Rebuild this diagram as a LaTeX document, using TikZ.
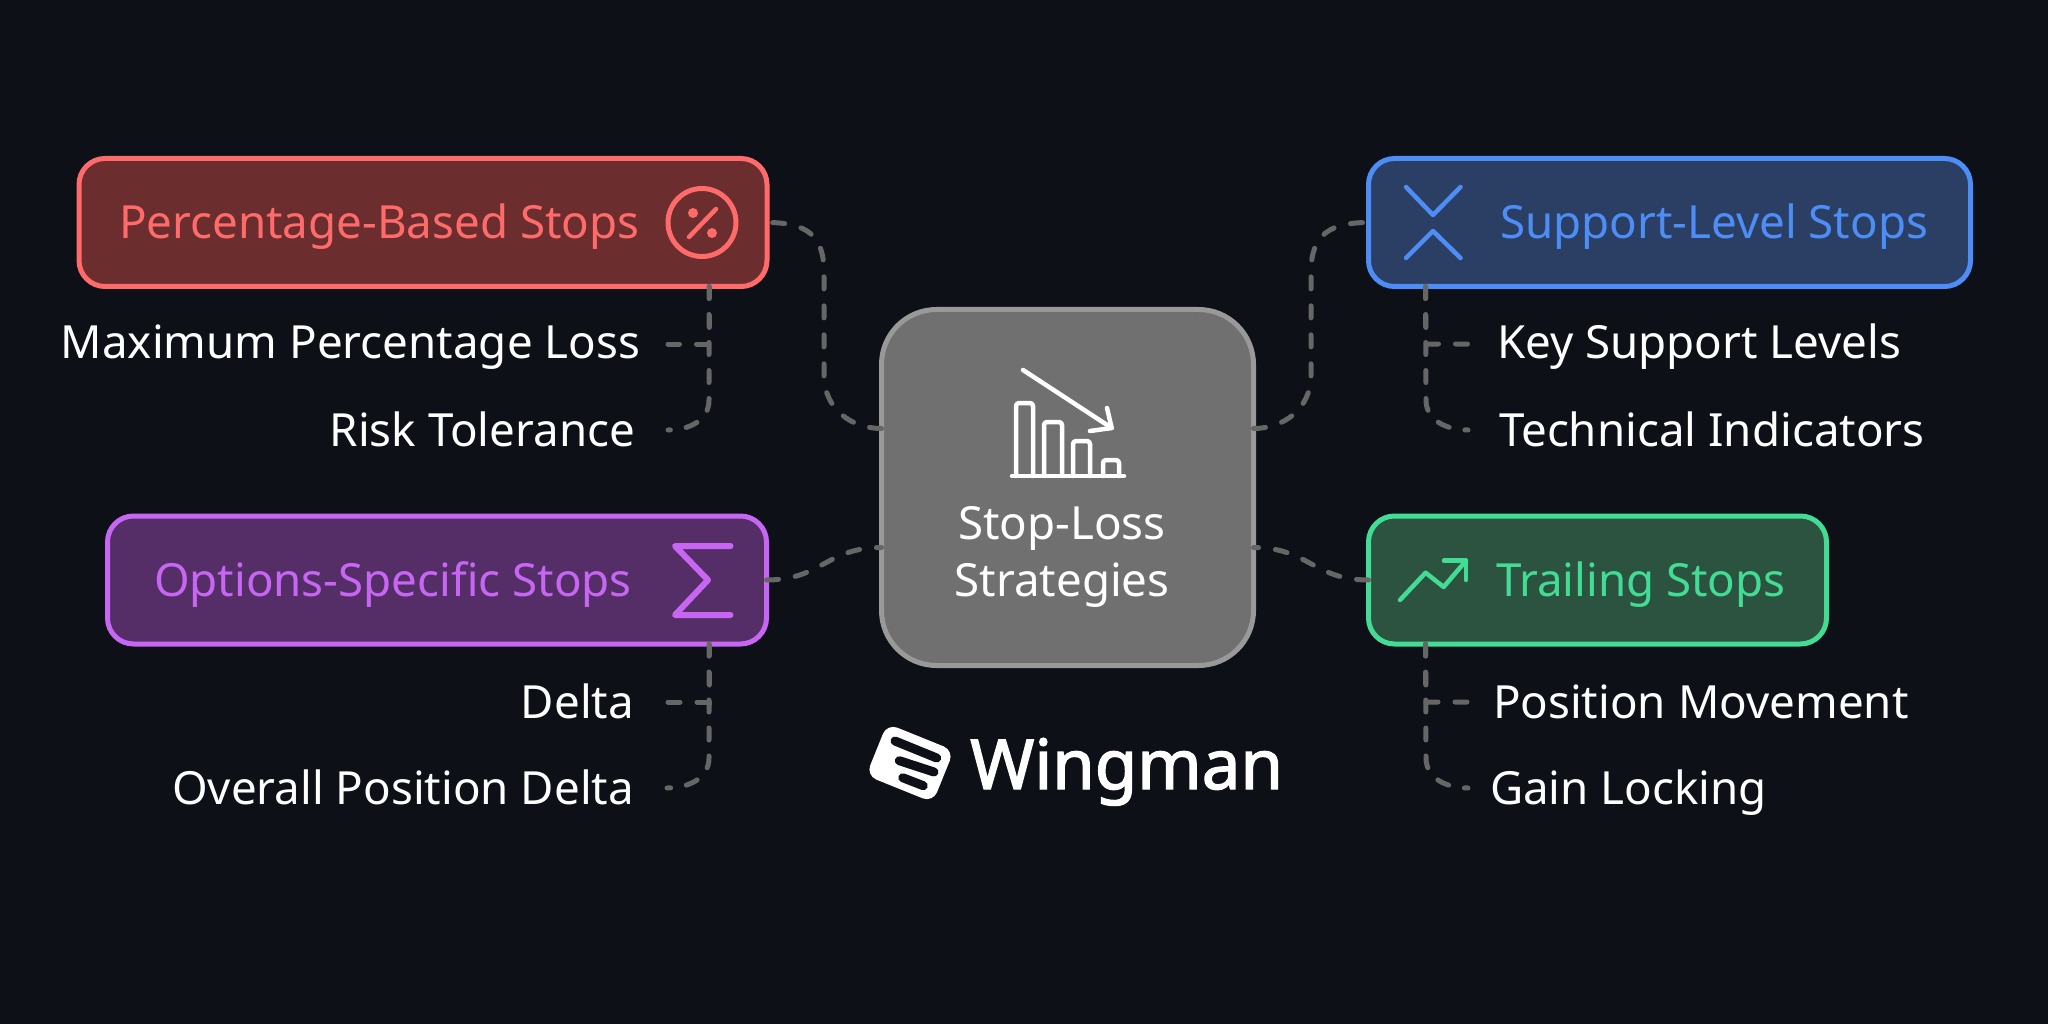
\documentclass[tikz,border=0pt]{standalone}
\usepackage{fontspec}
\usetikzlibrary{positioning,calc,arrows.meta}
\setmainfont{Noto Sans}
\newfontfamily\brandfont[FakeBold=2]{Noto Sans}
\definecolor{pagebg}{HTML}{0D1117}
\definecolor{linkgray}{HTML}{666666}
\definecolor{redline}{HTML}{FF6B6B}
\definecolor{redfill}{HTML}{6B2D2D}
\definecolor{blueline}{HTML}{4D8DF5}
\definecolor{bluefill}{HTML}{2A3F63}
\definecolor{greenline}{HTML}{42DC95}
\definecolor{greenfill}{HTML}{2C5240}
\definecolor{purpleline}{HTML}{C766F2}
\definecolor{purplefill}{HTML}{552E68}
\definecolor{hubfill}{HTML}{707070}
\definecolor{hubline}{HTML}{999999}
\tikzset{
    catbox/.style={draw=#1line, fill=#1fill, line width=5pt, rounded corners=26pt, inner sep=0pt, outer sep=0pt},
    cattext/.style={text=#1line, font=\fontsize{45.7}{46}\selectfont, inner sep=0pt, outer sep=0pt},
    itemtext/.style={text=white, font=\fontsize{45.7}{46}\selectfont, inner sep=0pt, outer sep=0pt},
    link/.style={draw=linkgray, line width=5pt, line cap=round, dash pattern=on 12pt off 17pt},
    stemlink/.style={link, dash pattern=on 12pt off 16pt},
    icon/.style={draw=#1, line width=4.5pt, line cap=round, line join=round},
}
\begin{document}
\begin{tikzpicture}[x=1pt,y=-1pt]
    \useasboundingbox[fill=pagebg] (0,0) rectangle (2048,1024);

    % Nodo central
    \node[draw=hubline, fill=hubfill, line width=5pt, rounded corners=55pt, minimum width=372pt, minimum height=356pt, inner sep=0pt, outer sep=0pt] (hub) at (1067.5,487.5) {};
    \node[itemtext, anchor=base] (hubtop) at (1062,539) {Stop-Loss};
    \node[itemtext, anchor=base] (hubbottom) at (1062,596) {Strategies};

    % Cajas de categoría
    \node[catbox=red, minimum width=688pt, minimum height=128pt] (redbox) at (423,222.5) {};
    \node[catbox=blue, minimum width=602pt, minimum height=128pt] (bluebox) at (1669.5,222.5) {};
    \node[catbox=purple, minimum width=659pt, minimum height=128pt] (purplebox) at (437,580) {};
    \node[catbox=green, minimum width=458pt, minimum height=128pt] (greenbox) at (1597.5,580) {};

    % Títulos
    \node[cattext=red, anchor=base west] (redtitle) at (119,239) {Percentage-Based Stops};
    \node[cattext=blue, anchor=base west] (bluetitle) at (1500,239) {Support-Level Stops};
    \node[cattext=purple, anchor=base west] (purpletitle) at (154,596) {Options-Specific Stops};
    \node[cattext=green, anchor=base west] (greentitle) at (1496,596) {Trailing Stops};

    % Elementos
    \node[itemtext, anchor=base east] (maxloss) at (640,359) {Maximum Percentage Loss};
    \node[itemtext, anchor=base east] (risk) at (635,446) {Risk Tolerance};
    \node[itemtext, anchor=base west] (keylevels) at (1497,359) {Key Support Levels};
    \node[itemtext, anchor=base west] (technical) at (1499,446) {Technical Indicators};
    \node[itemtext, anchor=base east] (delta) at (634,718) {Delta};
    \node[itemtext, anchor=base east] (overall) at (634,804) {Overall Position Delta};
    \node[itemtext, anchor=base west] (movement) at (1493,718) {Position Movement};
    \node[itemtext, anchor=base west] (locking) at (1490,804) {Gain Locking};

    % Extremos libres
    \coordinate (maxlossend) at (668,344);
    \coordinate (riskend) at (668,430);
    \coordinate (keyend) at (1468,344);
    \coordinate (techend) at (1468,430);
    \coordinate (deltaend) at (667,702);
    \coordinate (overallend) at (667,788);
    \coordinate (moveend) at (1468,702);
    \coordinate (lockend) at (1468,788);

    % Conectores al nodo central
    \draw[link] ([yshift=59pt]hub.west) .. controls +(-30,0) and +(0,34) .. (824,375) -- (824,272) .. controls +(0,-38) and +(38,0) .. (redbox.east);
    \draw[link] ([yshift=59pt]hub.east) .. controls +(30,0) and +(0,34) .. (1311,375) -- (1311,272) .. controls +(0,-38) and +(-38,0) .. (bluebox.west);
    \draw[link] (purplebox.east) .. controls +(55,0) and +(-55,0) .. ([yshift=-60pt]hub.west);
    \draw[link] (greenbox.west) .. controls +(-55,0) and +(55,0) .. ([yshift=-60pt]hub.east);

    % Conectores a los elementos
    \draw[link] ([xshift=286pt]redbox.south) -- (709,344) -- (maxlossend);
    \draw[stemlink] ([xshift=286pt]redbox.south) -- (709,400) .. controls +(0,20) and +(22,0) .. (riskend);
    \draw[link] ([xshift=-244pt]bluebox.south) -- (1426,344) -- (keyend);
    \draw[stemlink] ([xshift=-244pt]bluebox.south) -- (1426,400) .. controls +(0,20) and +(-22,0) .. (techend);
    \draw[link] ([xshift=272pt]purplebox.south) -- (709,702) -- (deltaend);
    \draw[stemlink] ([xshift=272pt]purplebox.south) -- (709,758) .. controls +(0,20) and +(22,0) .. (overallend);
    \draw[link] ([xshift=-172pt]greenbox.south) -- (1426,702) -- (moveend);
    \draw[stemlink] ([xshift=-172pt]greenbox.south) -- (1426,758) .. controls +(0,20) and +(-22,0) .. (lockend);

    % Icono de porcentaje
    \draw[icon=redline, line width=5pt] (702,222.5) circle[radius=34];
    \draw[icon=redline] (689,237) -- (716,209);
    \fill[redline] (693,213) circle[radius=5] (712,233) circle[radius=5];

    % Icono de soporte
    \draw[icon=blueline] (1406,187) -- (1433,215) -- (1460.5,187);
    \draw[icon=blueline] (1406,258) -- (1433,231) -- (1460.5,258);

    % Icono de sigma
    \draw[icon=purpleline, line width=6pt] (730.5,546) -- (675,546) -- (708,580) -- (675,615) -- (730.5,615);

    % Icono de tendencia
    \draw[icon=greenline] (1400,600) -- (1425.6,572.7) -- (1443.6,587) -- (1466,560.7);
    \draw[icon=greenline] (1444,560.7) -- (1466,560.7) -- (1466,580);

    % Icono central
    \draw[icon=white] (1023,370) -- (1111.7,428);
    \draw[icon=white] (1107,408) -- (1111.7,428) -- (1090,431);
    \draw[icon=white] (1012,476) -- (1124,476);
    \foreach \xa/\xb/\ytop in {1016/1033/403,1044/1062/422,1073/1090/441,1103/1119/460} {
        \draw[icon=white, rounded corners=3pt] (\xa,476) -- (\xa,\ytop) -- (\xb,\ytop) -- (\xb,476);
    }

    % Logo
    \begin{scope}[shift={(910,763)},rotate=-22]
        \fill[white, rounded corners=11pt] (-36,-28) rectangle (36,28);
    \end{scope}
    \draw[pagebg, line width=9pt, line cap=round] (895,741) -- (936.7,758);
    \draw[pagebg, line width=9pt, line cap=round] (899.3,760.7) -- (934,772);
    \draw[pagebg, line width=9pt, line cap=round] (902.7,777.7) -- (923.3,785.7);
    \node[text=white, font=\fontsize{69}{69}\brandfont, anchor=base west, inner sep=0pt] (brand) at (970,789) {Wingman};
\end{tikzpicture}
\end{document}
